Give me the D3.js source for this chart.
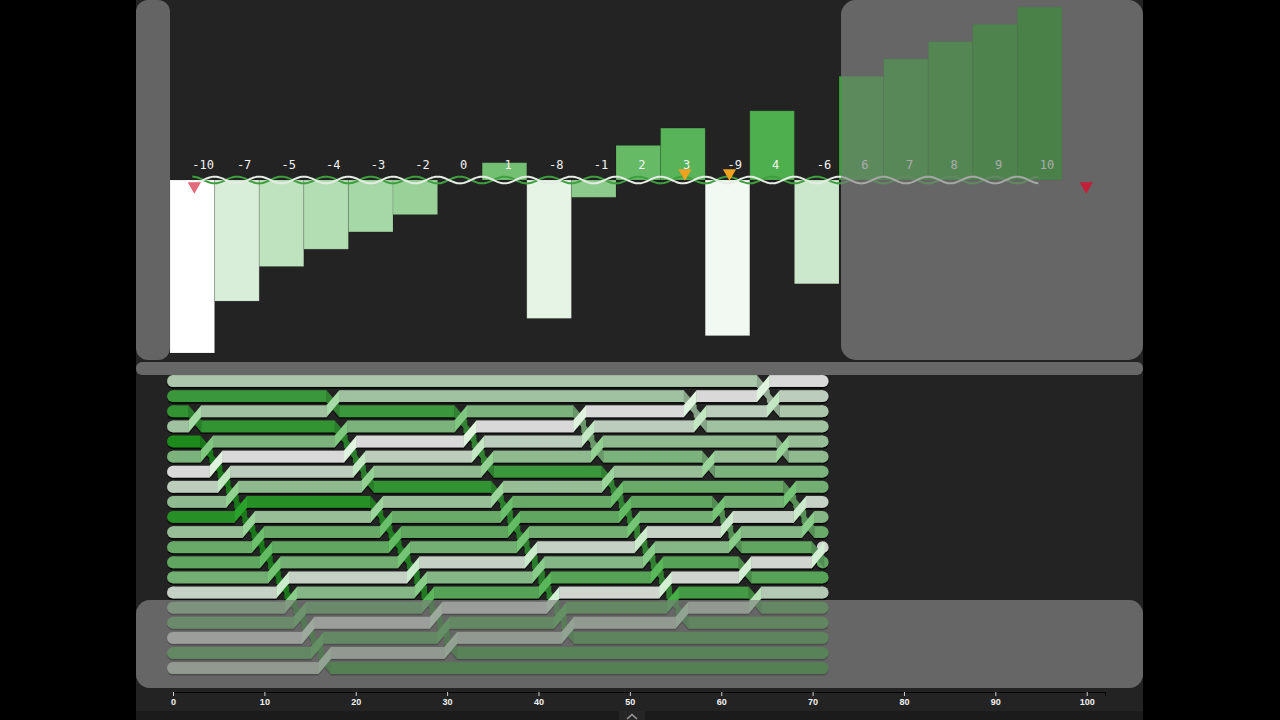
<!DOCTYPE html>
<html>
<head>
<meta charset="utf-8">
<script src="https://cdn.jsdelivr.net/npm/d3@7/dist/d3.min.js"></script>
<style>
  html, body { margin: 0; padding: 0; background: #000; }
  #chart { width: 1280px; height: 720px; }
  svg { display: block; }
</style>
</head>
<body>
<div id="chart"></div>
<script>
/* global d3 */

// ---- data ----
// array at the start of the run, top row first
const initialOrder = [-5, 7, 8, -4, 10, 0, -10, -7, -2, 9, -3, 2, 3, 1, -8, -1, 4, -9, 6, -6];

// every swap so far: upper row of the pair and the time it happened
const swapRows = [
    2, 4, 5, 6, 7, 8, 9, 10, 11, 12, 13, 14, 15, 16, 17, 18,
    1, 3, 4, 5, 6, 8, 9, 10, 11, 12, 13, 14, 15, 16, 17,
    2, 3, 4, 5, 7, 8, 9, 10, 11, 12, 13, 14, 15, 16,
    2, 3, 4, 6, 7, 8, 9, 10, 11, 12, 13, 14, 15,
    1, 2, 5, 8, 9, 10, 12, 14,
    0, 1, 4, 7, 8, 9, 11
];
const swapTimes = [
    2.4, 3.7, 4.7, 5.6, 6.5, 7.4, 8.3, 9.3, 10.2, 11.1, 12.0, 12.9, 13.9, 14.8, 15.8, 16.6,
    17.5, 18.4, 19.4, 20.4, 21.3, 22.3, 23.3, 24.3, 25.3, 26.3, 27.1, 27.9, 28.8, 29.6, 30.4,
    31.5, 32.5, 33.4, 34.4, 35.5, 36.5, 37.3, 38.3, 39.2, 40.0, 40.7, 41.6, 42.4, 43.2,
    44.5, 45.4, 46.4, 47.6, 48.6, 49.5, 50.4, 51.2, 52.1, 53.0, 53.9, 54.7, 55.7,
    56.6, 57.7, 58.6, 59.7, 60.6, 61.5, 62.6, 63.7,
    64.6, 65.7, 66.7, 67.5, 68.6, 69.5, 70.6
];
const currentTime = 71.1;

// bar chart: current state of the array
const barValues = [-10, -7, -5, -4, -3, -2, 0, 1, -8, -1, 2, 3, -9, 4, -6, 6, 7, 8, 9, 10];
const sortedFrom = 15;
const lowMarker = 0;
const comparedPair = [11, 12];
const highMarker = 20;

// timeline
const axisTicks = [0, 10, 20, 30, 40, 50, 60, 70, 80, 90, 100];
const axisDomain = [0, 102];

// ---- chart ----
const Chart = (function () {
    const $sel = d3.select('#chart');
    let $svg = null;

    const LEFT = 136;
    const RIGHT = 1143;
    const LANE_HALF = 5.9;
    const SWAP_HALF = 0.7;

    const xBar = d3.scaleBand().domain(d3.range(barValues.length)).range([170, 1062]);
    const yBar = d3.scaleLinear().domain([-10, 10]).range([353, 7]);
    const xTime = d3.scaleLinear().domain(axisDomain).range([173, 1105]);
    const yRow = d3.scaleLinear().domain([0, initialOrder.length - 1]).range([381, 668]);

    const barColor = d3.scaleLinear().domain([-10, 10]).range(['#ffffff', '#008c00']);
    const laneColor = d3.scaleLinear().domain([-10, 10]).range(['#d9d9d9', '#1f8b1f']);

    // sorted zone: opaque base under the marks, grey veil over them
    const ZONE_BASE = '#4a4a4a';
    const ZONE_VEIL = '#7a7a7a';
    const ZONE_VEIL_OPACITY = 0.6;

    function panel($g, x, y, w, h, r, fill, opacity) {
        return $g.append('rect')
            .attr('x', x).attr('y', y)
            .attr('width', w).attr('height', h)
            .attr('rx', r)
            .attr('fill', fill)
            .attr('opacity', opacity == null ? 1 : opacity);
    }

    function buildLanes() {
        const order = initialOrder.slice();
        const start = new Map(order.map(v => [v, 0]));
        const flat = [];
        const down = [];
        const up = [];
        swapTimes.forEach((t, i) => {
            const r = swapRows[i];
            const a = order[r];
            const b = order[r + 1];
            flat.push({ v: a, row: r, t0: start.get(a), t1: t - SWAP_HALF });
            flat.push({ v: b, row: r + 1, t0: start.get(b), t1: t - SWAP_HALF });
            down.push({ v: a, from: r, to: r + 1, t });
            up.push({ v: b, from: r + 1, to: r, t });
            start.set(a, t + SWAP_HALF);
            start.set(b, t + SWAP_HALF);
            order[r] = b;
            order[r + 1] = a;
        });
        order.forEach((v, row) => flat.push({ v, row, t0: start.get(v), t1: currentTime }));
        return { flat: flat.filter(d => d.t1 > d.t0), down, up, last: order };
    }

    function diag(d) {
        const x1 = xTime(d.t - SWAP_HALF);
        const x2 = xTime(d.t + SWAP_HALF);
        const ya = yRow(d.from);
        const yb = yRow(d.to);
        return [[x1, ya - LANE_HALF], [x2, yb - LANE_HALF], [x2, yb + LANE_HALF], [x1, ya + LANE_HALF]]
            .map(p => p.join(',')).join(' ');
    }

    return {
        init() {
            $svg = $sel.append('svg').attr('width', 1280).attr('height', 720);

            const $defs = $svg.append('defs');
            $defs.append('filter')
                .attr('id', 'lane-shadow')
                .attr('x', '-2%').attr('y', '-5%')
                .attr('width', '104%').attr('height', '115%')
                .append('feDropShadow')
                .attr('dx', 0).attr('dy', 1.6)
                .attr('stdDeviation', 0.6)
                .attr('flood-color', '#000')
                .attr('flood-opacity', 0.9);

            // background
            $svg.append('rect')
                .attr('x', LEFT).attr('y', 0)
                .attr('width', RIGHT - LEFT).attr('height', 720)
                .attr('fill', '#232323');
            $svg.append('rect')
                .attr('x', LEFT).attr('y', 711)
                .attr('width', RIGHT - LEFT).attr('height', 9)
                .attr('fill', '#1b1b1b');

            Chart.renderBars();
            Chart.renderLanes();
            Chart.renderAxis();
            return Chart;
        },

        renderBars() {
            const $top = $svg.append('g').attr('class', 'g-bars');
            const bw = xBar.bandwidth();
            const sortedX = xBar(sortedFrom) + 2;

            panel($top, LEFT, 0, 170 - LEFT, 360, 12, '#646464');
            panel($top, sortedX, 0, RIGHT - sortedX, 360, 15, ZONE_BASE);

            $top.selectAll('.bar')
                .data(barValues)
                .enter()
                .append('rect')
                .attr('class', 'bar')
                .attr('x', (d, i) => xBar(i))
                .attr('width', bw)
                .attr('y', d => yBar(Math.max(0, d)))
                .attr('height', d => Math.abs(yBar(d) - yBar(0)))
                .attr('fill', d => barColor(d))
                .attr('stroke', 'rgba(0,0,0,0.12)')
                .attr('stroke-width', 1);

            // braided baseline
            const x0 = xBar(0) + bw / 2;
            const x1 = xBar(barValues.length - 1) + bw / 2;
            const xs = d3.range(x0, x1 + 0.1, 1.5);
            const wave = sign => d3.line()
                .x(x => x)
                .y(x => yBar(0) + sign * 3.4 * Math.cos(2 * Math.PI * (x - x0) / bw))
                .curve(d3.curveBasis)(xs);
            $top.append('path')
                .attr('d', wave(-1))
                .attr('fill', 'none')
                .attr('stroke', '#3f9f3f')
                .attr('stroke-width', 2);
            $top.append('path')
                .attr('d', wave(1))
                .attr('fill', 'none')
                .attr('stroke', '#e4ece4')
                .attr('stroke-width', 2);

            $top.selectAll('.bar-label')
                .data(barValues)
                .enter()
                .append('text')
                .attr('class', 'bar-label')
                .attr('x', (d, i) => xBar(i) + bw / 2)
                .attr('y', 169)
                .attr('fill', '#f2f2f2')
                .attr('font-family', '"DejaVu Sans Mono", monospace')
                .attr('font-size', 12)
                .text(d => d);

            panel($top, sortedX, 0, RIGHT - sortedX, 360, 15, ZONE_VEIL, ZONE_VEIL_OPACITY);

            // markers
            const tri = d3.symbol().type(d3.symbolTriangle).size(76)();
            const markers = [
                { i: lowMarker, y: 186, color: '#e26a7a' },
                { i: comparedPair[0], y: 173, color: '#eea21f' },
                { i: comparedPair[1], y: 173, color: '#eea21f' },
                { i: highMarker, y: 186, color: '#c41f3a' }
            ];
            $top.selectAll('.marker')
                .data(markers)
                .enter()
                .append('path')
                .attr('class', 'marker')
                .attr('d', tri)
                .attr('transform', d => `translate(${xBar.range()[0] + xBar.step() * (d.i + 0.5) + 2},${d.y}) rotate(180)`)
                .attr('fill', d => d.color);

            // divider
            panel($svg, LEFT, 362, RIGHT - LEFT, 13, 6, '#676767');
            return Chart;
        },

        renderLanes() {
            const lanes = buildLanes();
            const panelY = yRow(sortedFrom) - 7.5;

            panel($svg, LEFT, panelY, RIGHT - LEFT, 688 - panelY, 14, ZONE_BASE);

            const $lanes = $svg.append('g')
                .attr('class', 'g-lanes')
                .attr('filter', 'url(#lane-shadow)');

            $lanes.selectAll('.flat')
                .data(lanes.flat)
                .enter()
                .append('rect')
                .attr('class', 'flat')
                .attr('x', d => xTime(d.t0) - 0.2)
                .attr('width', d => xTime(d.t1) - xTime(d.t0) + 0.4)
                .attr('y', d => yRow(d.row) - LANE_HALF)
                .attr('height', LANE_HALF * 2)
                .attr('fill', d => laneColor(d.v));

            const caps = initialOrder.map((v, row) => ({ v, row, t: 0 }))
                .concat(lanes.last.map((v, row) => ({ v, row, t: currentTime })));
            $lanes.selectAll('.cap')
                .data(caps)
                .enter()
                .append('circle')
                .attr('class', 'cap')
                .attr('cx', d => xTime(d.t))
                .attr('cy', d => yRow(d.row))
                .attr('r', LANE_HALF)
                .attr('fill', d => laneColor(d.v));

            $lanes.selectAll('.down')
                .data(lanes.down)
                .enter()
                .append('polygon')
                .attr('class', 'down')
                .attr('points', diag)
                .attr('fill', d => d3.color(laneColor(d.v)).darker(0.45));

            $lanes.selectAll('.up')
                .data(lanes.up)
                .enter()
                .append('polygon')
                .attr('class', 'up')
                .attr('points', diag)
                .attr('fill', d => d3.interpolateRgb(barColor(d.v), '#7fcf7f')(0.25));

            panel($svg, LEFT, panelY, RIGHT - LEFT, 688 - panelY, 14, ZONE_VEIL, ZONE_VEIL_OPACITY);
            return Chart;
        },

        renderAxis() {
            const $axis = $svg.append('g')
                .attr('class', 'x axis')
                .attr('transform', 'translate(0,692)')
                .call(d3.axisBottom(xTime).tickValues(axisTicks).tickSize(4).tickSizeOuter(4));
            $axis.select('.domain').attr('stroke', '#050505');
            $axis.selectAll('.tick line').attr('stroke', '#cfcfcf');
            $axis.selectAll('.tick text')
                .attr('fill', '#f2f2f2')
                .attr('font-family', '"Liberation Sans", Arial, sans-serif')
                .attr('font-weight', 'bold')
                .attr('font-size', 9);

            // scrubber handle
            $svg.append('rect')
                .attr('x', 619).attr('y', 711)
                .attr('width', 26).attr('height', 9)
                .attr('fill', '#262626');
            $svg.append('path')
                .attr('d', 'M627,719L632,714.5L637,719')
                .attr('fill', 'none')
                .attr('stroke', '#9a9a9a')
                .attr('stroke-width', 1.6);
            return Chart;
        }
    };
})();

Chart.init();
</script>
</body>
</html>
